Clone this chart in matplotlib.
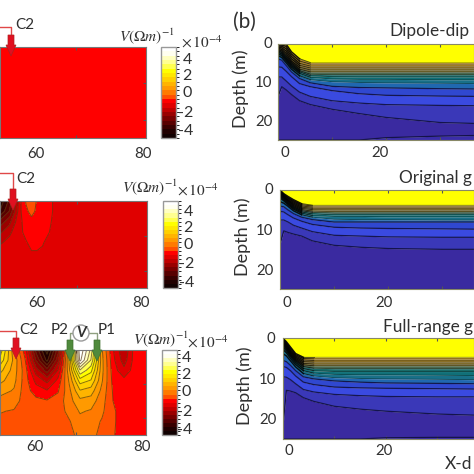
import numpy as np
import matplotlib

matplotlib.use("Agg")
import matplotlib.pyplot as plt
from matplotlib.colors import BoundaryNorm, ListedColormap
from matplotlib.patches import Circle, Polygon

plt.rcParams["font.family"] = ["Lato", "DejaVu Sans"]
plt.rcParams["mathtext.fontset"] = "stix"

SIZE = 474
TEXT_COLOR = "#303030"

# left column: potential field (x 10^-4)
depth_rows = [0, 3, 6, 9, 12, 15, 18, 21, 25]

flat_x = [53, 80]
flat_depth = [0, 25]
flat_field = [[-1.0, -1.0], [-1.0, -1.0]]

mid_x = [53, 55, 56, 57, 58, 59, 60, 61, 62, 63, 65, 80]
mid_field = [
    [-4.8, -3.6, -2.4, -1.3, -0.7, -0.4, -0.8, -0.95, -1.0, -1.3, -1.5, -1.5],
    [-4.4, -3.2, -2.2, -1.3, -0.85, -0.6, -0.85, -0.95, -1.0, -1.3, -1.5, -1.5],
    [-3.2, -2.4, -1.8, -1.35, -1.0, -0.9, -0.9, -1.0, -1.1, -1.35, -1.5, -1.5],
    [-2.4, -1.9, -1.5, -1.35, -1.1, -1.0, -1.0, -1.1, -1.2, -1.4, -1.5, -1.5],
    [-1.9, -1.5, -1.4, -1.4, -1.3, -1.1, -1.1, -1.2, -1.4, -1.5, -1.5, -1.5],
    [-1.4, -1.4, -1.4, -1.4, -1.4, -1.3, -1.3, -1.35, -1.5, -1.5, -1.5, -1.5],
    [-1.4, -1.5, -1.5, -1.5, -1.5, -1.5, -1.5, -1.5, -1.5, -1.5, -1.5, -1.5],
    [-1.5, -1.5, -1.5, -1.5, -1.5, -1.5, -1.5, -1.5, -1.5, -1.5, -1.5, -1.5],
    [-1.5, -1.5, -1.5, -1.5, -1.5, -1.5, -1.5, -1.5, -1.5, -1.5, -1.5, -1.5],
]

full_x = [53, 56, 58, 60, 62, 64, 66, 68, 70, 72, 74, 76, 78, 80]
full_field = [
    [3.0, 0.4, -1.0, -3.4, -5.0, -3.0, 0.6, 5.2, 3.6, 0.3, -1.2, -2.2, -1.0, -0.9],
    [2.4, 0.6, -0.7, -2.8, -4.4, -2.4, 0.8, 4.9, 3.2, 0.4, -1.1, -2.0, -1.0, -0.9],
    [1.6, 0.5, -0.5, -2.0, -3.0, -1.7, 0.6, 3.2, 2.4, 0.4, -1.0, -1.6, -1.0, -0.9],
    [1.0, 0.4, -0.5, -1.4, -1.9, -1.1, 0.3, 2.0, 1.7, 0.3, -0.9, -1.1, -1.0, -0.9],
    [0.5, 0.2, -0.5, -1.0, -1.2, -0.8, 0.1, 1.2, 1.0, 0.1, -0.8, -0.95, -0.95, -0.9],
    [0.1, 0.0, -0.5, -0.6, -0.7, -0.55, 0.05, 0.6, 0.5, -0.05, -0.75, -0.9, -0.9, -0.9],
    [-0.2, -0.3, -0.5, -0.5, -0.5, -0.5, -0.1, 0.3, 0.2, -0.15, -0.7, -0.9, -0.9, -0.9],
    [-0.35, -0.4, -0.5, -0.5, -0.5, -0.5, -0.3, 0.1, 0.0, -0.3, -0.7, -0.9, -0.9, -0.9],
    [-0.5, -0.5, -0.5, -0.5, -0.5, -0.5, -0.4, -0.1, -0.1, -0.4, -0.72, -0.9, -0.9, -0.9],
]

field_colors = [
    "#100000", "#200000", "#380000", "#580000", "#780000", "#9a0000", "#c00000",
    "#e00000", "#ff0000", "#ff5000", "#ff7a00", "#ff9a00", "#ffb400", "#ffd000",
    "#ffe800", "#ffff00", "#ffff50", "#ffff90", "#ffffc0", "#fffff0", "#ffffff",
]

# right column: depth (m) of each contour at these x stations
stations = [0, 0.7, 1.5, 2.5, 4, 6, 10, 15, 20, 30, 38]

dipole_depths = [
    [0, 0, 0, 2.0, 3.8, 4.8, 4.8, 4.8, 4.8, 4.8, 4.8],
    [0.2, 0.3, 0.6, 2.6, 4.4, 5.2, 5.2, 5.2, 5.2, 5.2, 5.2],
    [0.5, 0.6, 1.2, 3.2, 5.0, 5.7, 5.7, 5.7, 5.7, 5.7, 5.7],
    [0.8, 1.0, 1.8, 3.8, 5.5, 6.2, 6.2, 6.2, 6.2, 6.2, 6.2],
    [1.1, 1.4, 2.4, 4.4, 6.0, 6.7, 6.7, 6.7, 6.7, 6.7, 6.7],
    [1.4, 1.8, 3.0, 4.8, 6.5, 7.2, 7.2, 7.2, 7.2, 7.2, 7.2],
    [1.7, 2.2, 3.5, 5.2, 6.9, 7.8, 7.9, 7.9, 7.9, 7.9, 7.9],
    [2.1, 2.6, 3.9, 5.6, 7.2, 8.2, 8.4, 8.5, 8.5, 8.5, 8.5],
    [2.5, 3.0, 4.3, 6.0, 7.6, 8.6, 9.0, 9.1, 9.1, 9.2, 9.2],
    [3.0, 3.5, 4.8, 6.5, 8.2, 9.2, 9.7, 9.9, 10.0, 10.1, 10.2],
    [3.8, 4.2, 5.5, 7.2, 8.9, 10.0, 10.9, 11.2, 11.3, 11.5, 11.6],
    [5.9, 6.0, 7.0, 8.4, 10.2, 11.0, 12.0, 12.8, 13.2, 13.4, 13.5],
    [8.5, 8.5, 9.5, 10.8, 12.4, 13.5, 14.6, 15.2, 15.6, 15.8, 15.9],
    [13.5, 11.0, 11.8, 13.0, 14.6, 15.6, 16.8, 17.9, 18.9, 20.2, 20.5],
    [24.7, 24.7, 24.7, 24.7, 24.7, 24.7, 24.7, 24.7, 24.1, 23.7, 23.5],
]

original_depths = [
    [0, 0.9, 1.6, 2.4, 3.4, 3.8, 3.8, 3.8, 3.8, 3.8, 3.8],
    [0.2, 1.1, 1.9, 2.7, 3.7, 4.0, 4.0, 4.0, 4.0, 4.0, 4.0],
    [0.4, 1.3, 2.1, 3.0, 4.0, 4.3, 4.3, 4.3, 4.3, 4.3, 4.3],
    [0.6, 1.5, 2.4, 3.3, 4.3, 4.6, 4.6, 4.6, 4.6, 4.6, 4.6],
    [0.8, 1.7, 2.6, 3.6, 4.6, 4.9, 5.0, 5.0, 5.0, 5.0, 5.0],
    [1.0, 1.9, 2.8, 3.9, 4.9, 5.3, 5.4, 5.4, 5.4, 5.4, 5.4],
    [1.3, 2.1, 3.1, 4.2, 5.2, 5.6, 5.8, 5.8, 5.8, 5.8, 5.8],
    [1.6, 2.4, 3.4, 4.5, 5.5, 6.0, 6.2, 6.2, 6.2, 6.2, 6.2],
    [2.0, 2.7, 3.7, 4.8, 5.8, 6.4, 6.6, 6.6, 6.7, 6.7, 6.7],
    [2.9, 3.3, 4.1, 5.2, 6.2, 6.8, 7.3, 7.4, 7.4, 7.5, 7.5],
    [4.0, 4.2, 5.0, 5.9, 6.8, 7.4, 8.0, 8.0, 8.0, 8.0, 8.0],
    [5.3, 5.5, 6.2, 7.0, 7.8, 8.6, 9.3, 9.5, 9.6, 9.7, 9.8],
    [7.5, 7.5, 8.0, 8.8, 9.5, 10.4, 11.3, 11.5, 11.7, 11.8, 11.8],
    [13.5, 10.2, 10.6, 11.0, 11.5, 12.7, 13.8, 14.3, 14.6, 14.8, 14.8],
    [24.7, 24.7, 24.7, 24.7, 24.7, 24.7, 24.7, 24.7, 24.7, 24.7, 24.7],
]

fullrange_depths = [
    [0, 0.9, 2.2, 3.8, 4.7, 4.7, 4.7, 4.7, 4.7, 4.7, 4.7],
    [0.2, 1.2, 2.6, 4.1, 5.0, 5.1, 5.1, 5.1, 5.1, 5.1, 5.1],
    [0.4, 1.5, 3.0, 4.4, 5.4, 5.5, 5.5, 5.5, 5.5, 5.5, 5.5],
    [0.7, 1.8, 3.3, 4.7, 5.8, 5.9, 5.9, 5.9, 5.9, 5.9, 5.9],
    [1.0, 2.1, 3.6, 5.0, 6.2, 6.4, 6.4, 6.4, 6.4, 6.4, 6.4],
    [1.3, 2.4, 3.9, 5.3, 6.6, 6.8, 6.8, 6.8, 6.8, 6.8, 6.8],
    [1.7, 2.7, 4.2, 5.6, 7.0, 7.4, 7.5, 7.5, 7.5, 7.5, 7.5],
    [2.2, 3.1, 4.5, 6.0, 7.5, 8.0, 8.2, 8.2, 8.2, 8.2, 8.2],
    [2.8, 3.6, 5.0, 6.5, 8.0, 8.6, 8.9, 9.0, 9.0, 9.1, 9.2],
    [3.8, 4.4, 5.6, 7.1, 8.7, 9.3, 9.7, 9.9, 10.0, 10.1, 10.2],
    [5.5, 5.8, 6.7, 8.0, 9.5, 10.0, 10.5, 10.8, 11.0, 11.1, 11.2],
    [7.0, 7.2, 8.0, 9.3, 10.8, 11.4, 12.0, 12.2, 12.3, 12.4, 12.5],
    [9.5, 9.6, 10.2, 11.2, 12.6, 13.2, 13.8, 14.1, 14.3, 14.4, 14.4],
    [22.0, 12.8, 13.0, 13.4, 14.6, 15.5, 16.7, 17.4, 17.9, 18.6, 18.9],
    [24.7, 24.7, 24.7, 24.7, 24.7, 24.7, 24.7, 24.7, 24.4, 24.3, 24.3],
]

band_colors = [
    "#ffff00", "#b88e28", "#ae8828", "#9a7c2c", "#8a7630", "#7a6e30", "#4a6a50",
    "#1a6a68", "#107078", "#187088", "#2068b0", "#3048d0", "#3a4ae0", "#3a38b8",
    "#3a2aa0", "#3a2ca8",
]

# the picture is cropped, titles end where the image ends
panel_titles = ["Dipole-dip", "Original g", "Full-range g"]


def px_axes(fig, left, top, right, bottom, **kwargs):
    """axes from pixel box, origin top left"""
    return fig.add_axes(
        [left / SIZE, 1 - bottom / SIZE, (right - left) / SIZE, (bottom - top) / SIZE],
        **kwargs,
    )


def style_frame(ax, color="#777777"):
    for spine in ax.spines.values():
        spine.set_color(color)
        spine.set_linewidth(0.8)
    ax.tick_params(
        direction="in", length=2, width=0.8, color="#555555",
        labelbottom=False, labelleft=False,
    )


def draw_field(fig, box, x, depth, field, levels, cmap, norm):
    ax = px_axes(fig, *box)
    cs = ax.contourf(x, depth, field, levels=levels, cmap=cmap, norm=norm)
    if np.ptp(field) > 0:
        ax.contour(
            x, depth, field, levels=levels, colors="#5a3a10",
            linewidths=0.7, alpha=0.7, linestyles="solid",
        )
    ax.set_xlim(80 - box[2] / 5.5, 80)
    ax.set_ylim(25, 0)
    ax.set_xticks([67.3])
    ax.set_yticks([10, 20])
    ax.yaxis.tick_right()
    ax.tick_params(top=True)
    style_frame(ax)
    ax.tick_params(labelright=False)
    return cs


def draw_layers(fig, box, x_scale, depths):
    ax = px_axes(fig, *box)
    ax.fill_between(stations, 0, depths[0], color=band_colors[0], lw=0)
    for i in range(len(depths) - 1):
        ax.fill_between(stations, depths[i], depths[i + 1], color=band_colors[i + 1], lw=0)
    ax.fill_between(stations, depths[-1], 24.7, color=band_colors[-1], lw=0)
    for i, line in enumerate(depths):
        dark = i >= 10
        ax.plot(
            stations, line, color="#101040" if dark else "#000000",
            lw=0.9 if dark else 0.6, alpha=0.9 if dark else 0.35,
        )
        # contours bunch up near the source, almost solid black there
        if not dark:
            ax.plot(stations[:5], line[:5], color="#000000", lw=1.0, alpha=0.85)
            ax.plot(stations[4:6], line[4:6], color="#000000", lw=0.7, alpha=0.5)
    ax.set_xlim(0, (box[2] - box[0]) / x_scale)
    ax.set_ylim(24.7, 0)
    ax.set_xticks([10, 20, 30])
    ax.set_yticks([])
    ax.tick_params(top=True)
    style_frame(ax, "#888866")


def put(overlay, x, y, s, size=10.8, **kwargs):
    kwargs.setdefault("ha", "center")
    kwargs.setdefault("va", "center")
    overlay.text(x, y, s, fontsize=size, color=TEXT_COLOR, **kwargs)


def electrode(overlay, x, top, color, edge):
    shape = [
        (x - 3, top), (x + 3, top), (x + 3, top + 10), (x + 5, top + 10),
        (x, top + 21), (x - 5, top + 10), (x - 3, top + 10),
    ]
    overlay.add_patch(Polygon(shape, closed=True, facecolor=color, edgecolor=edge, lw=0.5, zorder=3))


fig = plt.figure(figsize=(SIZE / 100, SIZE / 100), dpi=100)

levels = np.arange(-5.25, 5.5, 0.5)
field_cmap = ListedColormap(field_colors)
field_norm = BoundaryNorm(levels, field_cmap.N)

# left column
left_boxes = [(0, 47, 146, 138), (0, 201, 147, 288), (0, 350, 146, 435)]
bar_boxes = [(161, 47, 176, 138), (163, 201, 178, 288), (162, 350, 177, 435)]
fields = [
    (flat_x, flat_depth, flat_field),
    (mid_x, depth_rows, mid_field),
    (full_x, depth_rows, full_field),
]
for box, bar_box, (fx, fd, fz) in zip(left_boxes, bar_boxes, fields):
    cs = draw_field(fig, box, fx, fd, np.array(fz), levels, field_cmap, field_norm)
    cax = px_axes(fig, *bar_box)
    cb = fig.colorbar(cs, cax=cax, ticks=[])
    cb.outline.set_edgecolor("#999999")
    cb.outline.set_linewidth(1)

# right column
draw_layers(fig, (278, 44, 474, 140), 5.4, dipole_depths)
draw_layers(fig, (280, 190, 474, 289), 5.4, original_depths)
draw_layers(fig, (282.8, 338, 474, 439), 5.15, fullrange_depths)

# text and electrodes live on a full figure overlay in pixel coordinates
overlay = fig.add_axes([0, 0, 1, 1], zorder=10)
overlay.set_xlim(0, SIZE)
overlay.set_ylim(SIZE, 0)
overlay.axis("off")

for labels_y, x60, x80 in [(154, 36, 143), (303, 37, 141), (447, 35, 142)]:
    put(overlay, x60, labels_y, "60")
    put(overlay, x80, labels_y, "80")

# colorbar tick labels
for x, ys in [
    (187, (60, 76, 93, 113, 131)),
    (188, (212, 228, 245, 264, 283)),
    (186, (358, 375, 392, 412, 430)),
]:
    for y, s in zip(ys, ("4", "2", "0", "-2", "-4")):
        put(overlay, x - (1.5 if s.startswith("-") else 0), y, s, size=11.5)

for x, y in [(119, 36), (122, 187), (133, 339)]:
    put(overlay, x, y, r"$V(\Omega m)^{-1}$", size=11, ha="left")
for x, y in [(181, 42), (177, 190), (187, 342)]:
    put(overlay, x, y, r"$\times\,10^{-4}$", size=11, ha="left", family="DejaVu Sans")

# right column labels
put(overlay, 233, 22, "(b)", size=15, ha="left")
for x, y, title in zip((389, 399, 383), (31, 178, 327), panel_titles):
    put(overlay, x, y, title, size=12.4, ha="left")
for x, y in [(241, 89), (243, 237), (245, 386)]:
    put(overlay, x, y, "Depth (m)", size=13, rotation=90)

for xs, ys in [
    ((268, 264, 264), (44, 83, 122)),
    ((269, 265, 265), (190, 231, 271)),
    ((271, 268, 268), (339, 380, 420)),
]:
    for x, y, s in zip(xs, ys, ("0", "10", "20")):
        put(overlay, x, y, s)
for x0, x20, y in [(285, 380, 153), (287, 384, 303), (289, 384, 451)]:
    put(overlay, x0, y, "0")
    put(overlay, x20, y, "20")
put(overlay, 445, 464, "X-d", size=12.5, ha="left")

# C2 current electrodes
wire_red = "#e04848"
for x, top, wire_y, label_x, label_y in [
    (11, 35, 27, 15, 25),
    (13, 189, 173, 16, 179),
    (16, 338, 331, 19, 330),
]:
    overlay.plot([0, x, x], [wire_y, wire_y, top], color=wire_red, lw=1)
    electrode(overlay, x, top, "#e01020", "#b02020")
    put(overlay, label_x, label_y, "C2", size=11, ha="left")

# P1 P2 voltage electrodes
wire_green = "#8fa080"
for x, label_x, label in [(70, 60, "P2"), (97, 107, "P1")]:
    overlay.plot([x, x, 81], [340, 333, 333], color=wire_green, lw=1)
    electrode(overlay, x, 340, "#4f8a3c", "#3f7030")
    put(overlay, label_x, 330, label, size=11)
overlay.add_patch(Circle((81, 333), 8, facecolor="white", edgecolor="#999999", lw=1, zorder=4))
overlay.text(81, 333, "V", fontsize=11, color=TEXT_COLOR, style="italic", weight="bold",
             ha="center", va="center", zorder=5)

fig.savefig("out.png", dpi=100)
